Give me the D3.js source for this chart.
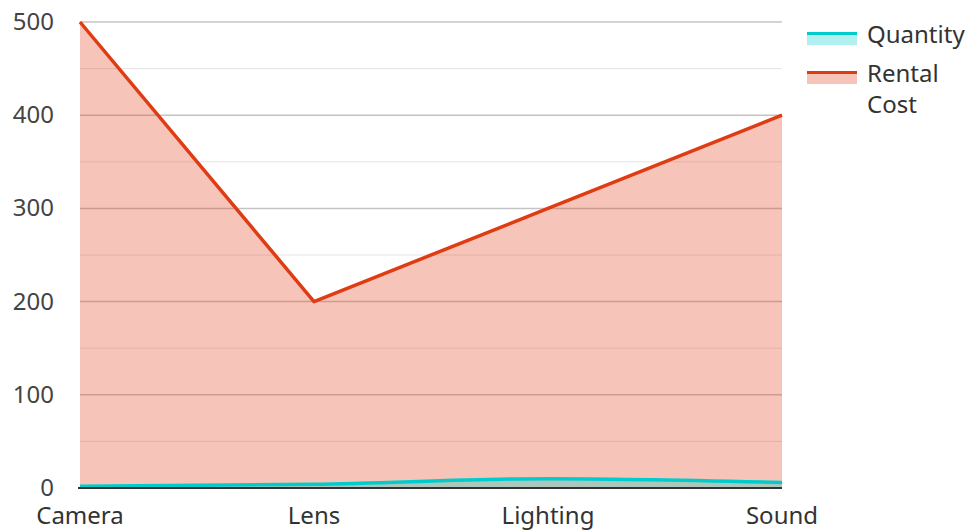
<!DOCTYPE html>
<html>
<head>
<meta charset="utf-8">
<script src="https://cdn.jsdelivr.net/npm/d3@7/dist/d3.min.js"></script>
<style>
  body { margin: 0; background: #fff; }
  svg { font-family: "Noto Sans", sans-serif; }
</style>
</head>
<body>
<svg></svg>
<script>
const categories = ["Camera", "Lens", "Lighting", "Sound"]
const quantity = [2, 4, 10, 6]
const rentalCost = [500, 200, 300, 400]
const yTicks = [0, 100, 200, 300, 400, 500]
const minorTicks = [50, 150, 250, 350, 450]

const seriesColors = ["#00cccc", "#e03c14"]

const svg = d3.select("svg")
    .attr("width", 971)
    .attr("height", 531)

const plotLeft = 80, plotRight = 782, plotTop = 22, plotBottom = 488

const x = d3.scalePoint()
    .domain(categories)
    .range([plotLeft, plotRight])

const y = d3.scaleLinear()
    .domain([0, 500])
    .range([plotBottom, plotTop])

// gridlines
svg.append("g")
    .selectAll("line")
    .data(minorTicks)
    .join("line")
    .attr("x1", plotLeft).attr("x2", plotRight)
    .attr("y1", d => y(d)).attr("y2", d => y(d))
    .attr("stroke", "#e4e4e4")
    .attr("stroke-width", 1)

svg.append("g")
    .selectAll("line")
    .data(yTicks.filter(d => d > 0))
    .join("line")
    .attr("x1", plotLeft).attr("x2", plotRight)
    .attr("y1", d => y(d)).attr("y2", d => y(d))
    .attr("stroke", "#c4c4c4")
    .attr("stroke-width", 1.5)

// areas + lines
const series = [
    { name: "Rental Cost", values: rentalCost, color: seriesColors[1], curve: d3.curveLinear },
    { name: "Quantity", values: quantity, color: seriesColors[0], curve: d3.curveMonotoneX }
]

series.forEach(s => {
    const area = d3.area()
        .x((d, i) => x(categories[i]))
        .y0(y(0))
        .y1(d => y(d))
        .curve(s.curve)
    const line = d3.line()
        .x((d, i) => x(categories[i]))
        .y(d => y(d))
        .curve(s.curve)

    svg.append("path")
        .datum(s.values)
        .attr("d", area)
        .attr("fill", s.color)
        .attr("fill-opacity", 0.3)

    svg.append("path")
        .datum(s.values)
        .attr("d", line)
        .attr("fill", "none")
        .attr("stroke", s.color)
        .attr("stroke-width", 3.5)
        .attr("stroke-linejoin", "round")
})

// x axis baseline
svg.append("line")
    .attr("x1", plotLeft - 2).attr("x2", plotRight)
    .attr("y1", plotBottom).attr("y2", plotBottom)
    .attr("stroke", "#333")
    .attr("stroke-width", 2)

// y tick labels
svg.append("g")
    .selectAll("text")
    .data(yTicks)
    .join("text")
    .attr("x", 54)
    .attr("y", d => y(d) + 8)
    .attr("text-anchor", "end")
    .attr("font-size", 24)
    .attr("fill", "#444")
    .text(d => d)

// x labels
svg.append("g")
    .selectAll("text")
    .data(categories)
    .join("text")
    .attr("x", d => x(d))
    .attr("y", 524)
    .attr("text-anchor", "middle")
    .attr("font-size", 24)
    .attr("fill", "#333")
    .text(d => d)

// legend
const legend = svg.append("g")
const legendItems = [
    { lines: ["Quantity"], color: seriesColors[0], y0: 32 },
    { lines: ["Rental", "Cost"], color: seriesColors[1], y0: 71 }
]
legendItems.forEach(item => {
    legend.append("rect")
        .attr("x", 807).attr("y", item.y0)
        .attr("width", 50).attr("height", 13)
        .attr("fill", item.color)
        .attr("fill-opacity", 0.3)
    legend.append("rect")
        .attr("x", 807).attr("y", item.y0)
        .attr("width", 50).attr("height", 3)
        .attr("fill", item.color)
    item.lines.forEach((t, i) => {
        legend.append("text")
            .attr("x", 867)
            .attr("y", item.y0 + 11 + i * 31)
            .attr("font-size", 24)
            .attr("fill", "#333")
            .text(t)
    })
})
</script>
</body>
</html>
